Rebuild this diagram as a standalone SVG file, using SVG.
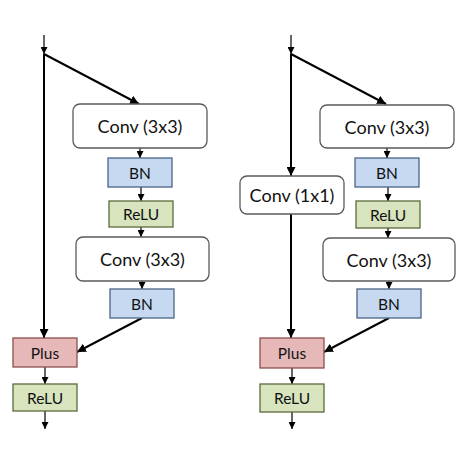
<svg xmlns="http://www.w3.org/2000/svg" width="474" height="474" viewBox="0 0 474 474">
<defs>
<marker id="ah" viewBox="0 0 10 10" refX="10" refY="5" markerWidth="7" markerHeight="7" markerUnits="userSpaceOnUse" orient="auto"><path d="M0,0 L10,5 L0,10 z" fill="#000"/></marker>
<marker id="ahb" viewBox="0 0 10 10" refX="10" refY="5" markerWidth="9" markerHeight="9" markerUnits="userSpaceOnUse" orient="auto"><path d="M0,0 L10,5 L0,10 z" fill="#000"/></marker>
</defs>
<style>
.conv{fill:#fff;stroke:#595959;stroke-width:1.3}
.bn{fill:#c6d9f1;stroke:#4a6586;stroke-width:1.3}
.relu{fill:#d7e4bd;stroke:#5b6b3c;stroke-width:1.3}
.plus{fill:#e6b9b8;stroke:#8c4f4d;stroke-width:1.3}
text{font-family:Lato,"Open Sans",sans-serif;fill:#111;text-anchor:middle;dominant-baseline:central}
.big{font-size:18px}
.sm{font-size:15.5px}
.thick{stroke:#000;stroke-width:2;fill:none}
.thin{stroke:#000;stroke-width:1.2;fill:none}
</style>
<rect width="474" height="474" fill="#fff"/>
<g id="connectors">
<line class="thin" x1="44" y1="35" x2="44" y2="54" marker-end="url(#ah)"/>
<line class="thick" x1="44" y1="54" x2="44" y2="338" marker-end="url(#ahb)"/>
<line class="thick" x1="44" y1="54" x2="139" y2="104" marker-end="url(#ahb)"/>
<line class="thin" x1="140" y1="148" x2="140" y2="158" marker-end="url(#ah)"/>
<line class="thin" x1="141" y1="187" x2="141" y2="201" marker-end="url(#ah)"/>
<line class="thin" x1="141" y1="227" x2="141" y2="237" marker-end="url(#ah)"/>
<line class="thin" x1="142" y1="281" x2="142" y2="289" marker-end="url(#ah)"/>
<line class="thick" x1="142" y1="318" x2="77" y2="352" marker-end="url(#ahb)"/>
<line class="thin" x1="45" y1="367" x2="45" y2="384" marker-end="url(#ah)"/>
<line class="thin" x1="45" y1="411" x2="45" y2="429" marker-end="url(#ah)"/>
<line class="thin" x1="291" y1="35" x2="291" y2="54" marker-end="url(#ah)"/>
<line class="thick" x1="291" y1="54" x2="291" y2="176" marker-end="url(#ahb)"/>
<line class="thick" x1="291" y1="214" x2="291" y2="338" marker-end="url(#ahb)"/>
<line class="thick" x1="291" y1="54" x2="386" y2="104" marker-end="url(#ahb)"/>
<line class="thin" x1="387" y1="148" x2="387" y2="158" marker-end="url(#ah)"/>
<line class="thin" x1="388" y1="187" x2="388" y2="201" marker-end="url(#ah)"/>
<line class="thin" x1="388" y1="228" x2="388" y2="238" marker-end="url(#ah)"/>
<line class="thin" x1="389" y1="281" x2="389" y2="289" marker-end="url(#ah)"/>
<line class="thick" x1="389" y1="318" x2="324" y2="352" marker-end="url(#ahb)"/>
<line class="thin" x1="292" y1="368" x2="292" y2="384" marker-end="url(#ah)"/>
<line class="thin" x1="292" y1="412" x2="292" y2="429" marker-end="url(#ah)"/>
</g>
<g id="l-conv1"><rect class="conv" x="73" y="104" width="134" height="44" rx="7"/><text class="big" x="140" y="126">Conv (3x3)</text></g>
<g id="l-bn1"><rect class="bn" x="108" y="158" width="64" height="29"/><text class="sm" x="140" y="172.5">BN</text></g>
<g id="l-relu1"><rect class="relu" x="109" y="201" width="64" height="26"/><text class="sm" x="141" y="214">ReLU</text></g>
<g id="l-conv2"><rect class="conv" x="76" y="237" width="133" height="44" rx="7"/><text class="big" x="142.5" y="259">Conv (3x3)</text></g>
<g id="l-bn2"><rect class="bn" x="110" y="289" width="64" height="29"/><text class="sm" x="142" y="303.5">BN</text></g>
<g id="l-plus"><rect class="plus" x="13" y="338" width="64" height="29"/><text class="sm" x="45" y="352.5">Plus</text></g>
<g id="l-relu2"><rect class="relu" x="13" y="384" width="64" height="27"/><text class="sm" x="45" y="397.5">ReLU</text></g>
<g id="r-conv1"><rect class="conv" x="320" y="105" width="134" height="43" rx="7"/><text class="big" x="387" y="126.5">Conv (3x3)</text></g>
<g id="r-bn1"><rect class="bn" x="355" y="158" width="64" height="29"/><text class="sm" x="387" y="172.5">BN</text></g>
<g id="r-relu1"><rect class="relu" x="356" y="201" width="64" height="27"/><text class="sm" x="388" y="214.5">ReLU</text></g>
<g id="r-conv1x1"><rect class="conv" x="240" y="176" width="104" height="38" rx="7"/><text class="big" x="292" y="195">Conv (1x1)</text></g>
<g id="r-conv2"><rect class="conv" x="323" y="238" width="132" height="43" rx="7"/><text class="big" x="389" y="259.5">Conv (3x3)</text></g>
<g id="r-bn2"><rect class="bn" x="357" y="289" width="64" height="29"/><text class="sm" x="389" y="303.5">BN</text></g>
<g id="r-plus"><rect class="plus" x="260" y="338" width="64" height="30"/><text class="sm" x="292" y="353">Plus</text></g>
<g id="r-relu2"><rect class="relu" x="260" y="384" width="64" height="28"/><text class="sm" x="292" y="398">ReLU</text></g>
</svg>
